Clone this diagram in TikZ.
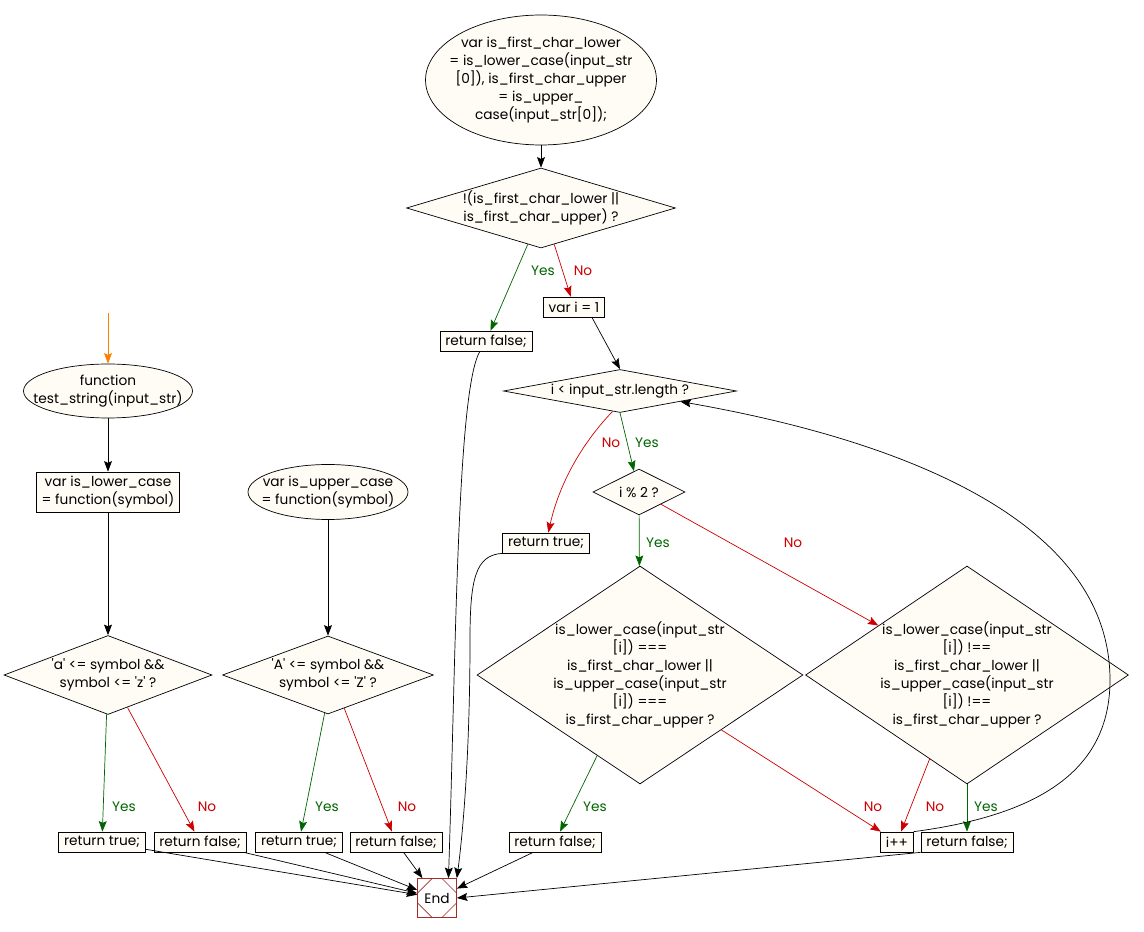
\documentclass[tikz,border=0pt]{standalone}
\usepackage{fontspec}
\setmainfont{Poppins}
\usetikzlibrary{shapes.geometric,arrows.meta}
\definecolor{nodefill}{HTML}{FFFBF5}
\definecolor{yescol}{HTML}{006400}
\definecolor{nocol}{HTML}{CC0000}
\definecolor{endcol}{HTML}{A52A2A}
\newcommand{\q}{\textquotesingle}

\begin{document}
\begin{tikzpicture}[x=0.02cm,y=-0.02cm]
	\tikzset{
		every node/.style = {font=\fontsize{7.8}{10.2}\selectfont},
		tip/.style = {-{Stealth[length=6pt,width=4.5pt,inset=1pt]}},
		box/.style = {rectangle, draw, fill=nodefill, align=center, inner xsep=3pt, inner ysep=1pt, minimum height=0.4cm},
		oval/.style = {ellipse, draw, fill=nodefill, align=center, inner sep=-10pt},
		test/.style = {diamond, draw, fill=nodefill, align=center, inner sep=-22pt},
		yes/.style = {text=yescol},
		no/.style = {text=nocol},
		endbox/.style = {rectangle, draw=endcol, fill=white, minimum size=0.78cm, inner sep=0pt,
			path picture={
				\draw[endcol] ([xshift=-0.1cm]path picture bounding box.north) -- ([yshift=0.1cm]path picture bounding box.west);
				\draw[endcol] ([xshift=0.1cm]path picture bounding box.north) -- ([yshift=0.1cm]path picture bounding box.east);
				\draw[endcol] ([xshift=-0.1cm]path picture bounding box.south) -- ([yshift=-0.1cm]path picture bounding box.west);
				\draw[endcol] ([xshift=0.1cm]path picture bounding box.south) -- ([yshift=-0.1cm]path picture bounding box.east);
			}}
	}
	\useasboundingbox (0,0) rectangle (1144,932);
	\node [oval, minimum width=4.62cm, minimum height=2.6cm] (init) at (541,80) {var is\_first\_char\_lower\\= is\_lower\_case(input\_str\\{}[0]), is\_first\_char\_upper\\= is\_upper\_\\case(input\_str[0]);};
	\node [test, minimum width=5.38cm, minimum height=1.6cm] (notcase) at (541,208) {!(is\_first\_char\_lower ||\\is\_first\_char\_upper) ?};
	\node [box] (retf1) at (486,341) {return false;};
	\node [box] (vari) at (574,307) {var i = 1};
	\node [test, minimum width=4.66cm, minimum height=0.86cm] (loop) at (620,391) {i < input\_str.length ?};
	\node [box] (rett1) at (546,543) {return true;};
	\node [test, minimum width=1.84cm, minimum height=0.92cm] (odd) at (639,492) {i \% 2 ?};
	\node [test, minimum width=6.52cm, minimum height=4.36cm] (same) at (640,675) {is\_lower\_case(input\_str\\{}[i]) ===\\is\_first\_char\_lower ||\\is\_upper\_case(input\_str\\{}[i]) ===\\is\_first\_char\_upper ?};
	\node [test, minimum width=6.46cm, minimum height=4.36cm] (diff) at (967,675) {is\_lower\_case(input\_str\\{}[i]) !==\\is\_first\_char\_lower ||\\is\_upper\_case(input\_str\\{}[i]) !==\\is\_first\_char\_upper ?};
	\node [box] (retf2) at (555,842) {return false;};
	\node [box] (inc) at (897,842) {i++};
	\node [box] (retf3) at (967,842) {return false;};
	\node [endbox] (end) at (437,898) {End};

	\coordinate (start) at (108,313);
	\node [oval, minimum width=3.38cm, minimum height=1.08cm] (func) at (108,391) {function\\test\_string(input\_str)};
	\node [box, minimum height=0.8cm] (lower) at (108,492) {var is\_lower\_case\\= function(symbol)};
	\node [oval, minimum width=3.2cm, minimum height=1.1cm] (upper) at (328,492) {var is\_upper\_case\\= function(symbol)};
	\node [test, minimum width=4.16cm, minimum height=1.58cm] (islow) at (108,675) {\q a\q{} <= symbol \&\&\\symbol <= \q z\q{} ?};
	\node [test, minimum width=4.22cm, minimum height=1.56cm] (isup) at (328,675) {\q A\q{} <= symbol \&\&\\symbol <= \q Z\q{} ?};
	\node [box] (rett2) at (102,842) {return true;};
	\node [box] (retf4) at (200,842) {return false;};
	\node [box] (rett3) at (299,842) {return true;};
	\node [box] (retf5) at (396,842) {return false;};

	\node [yes] (y1) at (543,271) {Yes};
	\node [no] (n1) at (583,271) {No};
	\node [no] (n2) at (611,443) {No};
	\node [yes] (y2) at (647,443) {Yes};
	\node [yes] (y3) at (658,543) {Yes};
	\node [no] (n3) at (793,543) {No};
	\node [yes] (y4) at (595,807) {Yes};
	\node [no] (n4) at (873,807) {No};
	\node [no] (n5) at (935,807) {No};
	\node [yes] (y5) at (986,807) {Yes};
	\node [yes] (y6) at (124,807) {Yes};
	\node [no] (n6) at (207,807) {No};
	\node [yes] (y7) at (327,807) {Yes};
	\node [no] (n7) at (407,807) {No};

	\draw [tip] (init) -- (notcase);
	\draw [tip, yescol] (notcase.250) -- (retf1);
	\draw [tip, nocol] (notcase.290) -- (vari);
	\draw [tip] (vari.-30) -- (loop.north);
	\draw [tip, nocol] (loop.250) .. controls (585,440) and (560,480) .. (rett1);
	\draw [tip, yescol] (loop.south) -- (odd);
	\draw [tip, yescol] (odd) -- (same);
	\draw [tip, nocol] (odd) -- (diff);
	\draw [tip, yescol] (same.242) -- (retf2);
	\draw [tip, nocol] (same.-34) -- (inc);
	\draw [tip, nocol] (diff.246) -- (inc);
	\draw [tip, yescol] (diff) -- (retf3);
	\draw [tip] (inc.north east) .. controls (1040,815) and (1110,770) .. (1110,680) .. controls (1110,520) and (900,440) .. (loop);
	\draw [tip] (retf1) .. controls (457,390) and (456,650) .. (end.60);
	\draw [tip] (rett1.south west) .. controls (475,555) and (470,580) .. (470,640) .. controls (470,760) and (462,840) .. (end.north east);
	\draw [tip] (retf2) -- (end);
	\draw [tip] (retf3.south west) -- (end.east);

	\draw [tip, orange] (start) -- (func);
	\draw [tip] (func) -- (lower);
	\draw [tip] (lower) -- (islow);
	\draw [tip] (upper) -- (isup);
	\draw [tip, yescol] (islow) -- (rett2);
	\draw [tip, nocol] (islow.-59) -- (retf4);
	\draw [tip, yescol] (isup.-95) -- (rett3);
	\draw [tip, nocol] (isup.-64) -- (retf5);
	\draw [tip] (rett2) -- (end);
	\draw [tip] (retf4) -- (end);
	\draw [tip] (rett3) -- (end);
	\draw [tip] (retf5) -- (end);
\end{tikzpicture}
\end{document}
